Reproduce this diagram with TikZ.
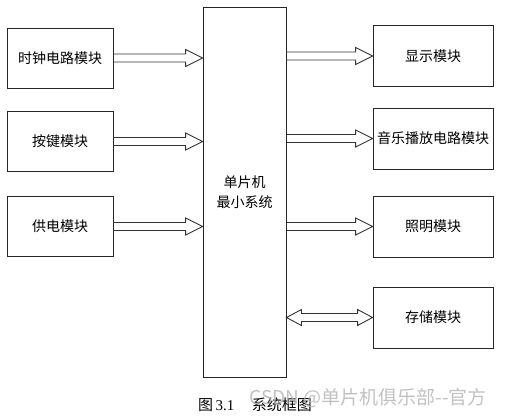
\documentclass[tikz,border=0pt]{standalone}
\usepackage{fontspec}
\setmainfont{Liberation Serif}
\newfontfamily\cjk{Noto Sans CJK SC}
\usetikzlibrary{calc}
\tikzset{
  modbox/.style={draw=black!85, line width=0.9pt, inner sep=0pt,
    minimum width=106pt, minimum height=60pt, align=center,
    font=\cjk\fontsize{14}{20}\selectfont},
  outbox/.style={modbox, minimum width=120pt, minimum height=61pt},
  busarrow/.style={draw=black!80, line width=0.9pt, line join=miter},
}
% hollow block arrow, #1 = tail, #2 = tip
\newcommand\rarrow[2]{%
  \draw[busarrow] ($(#1)+(0,4)$) -- ($(#2)+(-17,4)$) -- ($(#2)+(-17,8.5)$)
    -- (#2) -- ($(#2)+(-17,-8.5)$) -- ($(#2)+(-17,-4)$) -- ($(#1)+(0,-4)$);}
% hollow double arrow, #1 = left tip, #2 = right tip
\newcommand\darrow[2]{%
  \draw[busarrow] (#1) -- ($(#1)+(15,-8)$) -- ($(#1)+(15,-4)$) -- ($(#2)+(-15,-4)$)
    -- ($(#2)+(-15,-8)$) -- (#2) -- ($(#2)+(-15,8)$) -- ($(#2)+(-15,4)$)
    -- ($(#1)+(15,4)$) -- ($(#1)+(15,8)$) -- cycle;}
\begin{document}
\begin{tikzpicture}[x=1pt, y=-1pt]
  \useasboundingbox (0,0) rectangle (506,417);
  % central block
  \node[modbox, minimum width=83pt, minimum height=370pt] (mcu) at (244.5,192) {单片机\\最小系统};
  % inputs
  \node[modbox] (clock) at (60,58) {时钟电路模块};
  \node[modbox] (keys) at (60,141.5) {按键模块};
  \node[modbox] (power) at (60,226.5) {供电模块};
  % outputs
  \node[outbox] (disp) at (433,56) {显示模块};
  \node[outbox] (music) at (433,138.5) {音乐播放电路模块};
  \node[outbox] (light) at (433,226.5) {照明模块};
  \node[outbox] (store) at (433,317.5) {存储模块};
  % arrows
  \foreach \m in {clock,keys,power} {
    \rarrow{\m.east}{\m.east -| mcu.west}
  }
  \foreach \m in {disp,music,light} {
    \rarrow{mcu.east |- \m.west}{\m.west}
  }
  \darrow{mcu.east |- store.west}{store.west}
  % caption
  \node[font=\fontsize{15}{17}\selectfont] (cap) at (255,405) {{\cjk 图}\,3.1\quad\,{\cjk 系统框图}};
  \node[font=\cjk\fontsize{19}{21}\selectfont, text=black!30, opacity=0.8, anchor=west] (mark) at (246,398) {CSDN @单片机俱乐部--官方};
\end{tikzpicture}
\end{document}
